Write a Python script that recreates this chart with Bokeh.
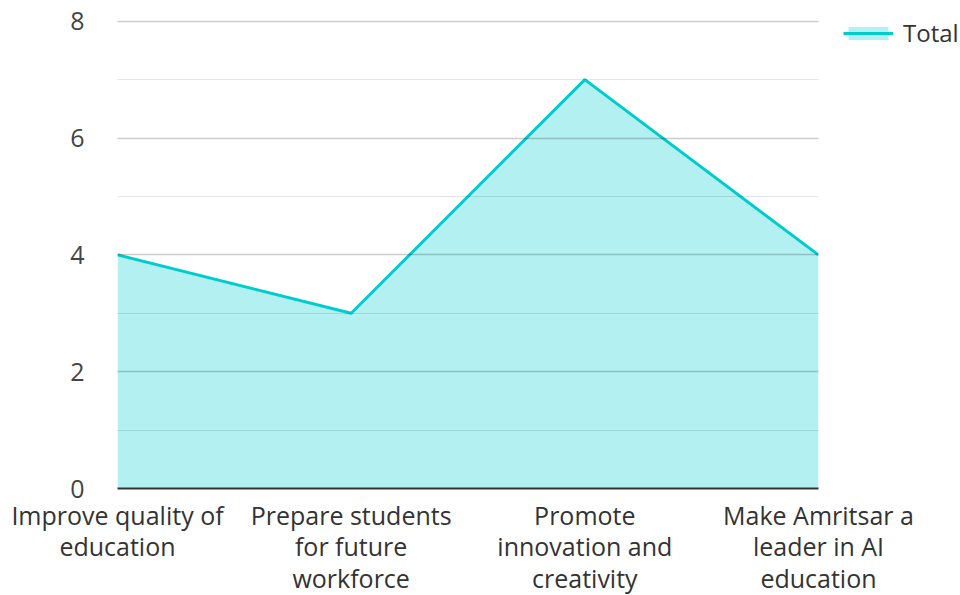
from bokeh.plotting import figure
from bokeh.models import FixedTicker, Legend, LegendItem, ColumnDataSource, Range1d
from bokeh.embed import file_html
from bokeh.resources import INLINE

categories = ["Improve quality of\neducation", "Prepare students\nfor future\nworkforce",
              "Promote\ninnovation and\ncreativity", "Make Amritsar a\nleader in AI\neducation"]
totals = [4, 3, 7, 4]
y_ticks = [0, 2, 4, 6, 8]
y_minor = [1, 3, 5, 7]

xs = list(range(len(categories)))
src = ColumnDataSource(dict(x=xs, y=totals, base=[0] * len(xs)))

FONT = "Open Sans"
FS = "25px"
p = figure(frame_width=701, frame_height=469, output_backend="svg", toolbar_location=None,
           x_range=Range1d(0, len(categories) - 1), y_range=Range1d(0, 8.03),
           min_border_left=117, min_border_right=0, min_border_top=19, min_border_bottom=0)
p.outline_line_color = None
p.background_fill_color = "white"

area = p.varea(x="x", y1="base", y2="y", source=src, fill_color="#00CED1", fill_alpha=0.3)
line = p.line(x="x", y="y", source=src, line_color="#00CCCC", line_width=3)

p.xaxis.ticker = FixedTicker(ticks=xs)
p.xaxis.major_label_overrides = {i: c for i, c in enumerate(categories)}
p.xaxis.major_tick_line_color = None
p.xaxis.minor_tick_line_color = None
p.xaxis.axis_line_color = "#333333"
p.xaxis.axis_line_width = 2
p.xaxis.major_label_text_font = FONT
p.xaxis.major_label_text_font_size = FS
p.xaxis.major_label_text_line_height = 0.94
p.xaxis.major_label_text_color = "#333333"
p.xaxis.major_label_standoff = 3
p.xgrid.grid_line_color = None

p.yaxis.ticker = FixedTicker(ticks=y_ticks, minor_ticks=y_minor)
p.yaxis.axis_line_color = None
p.yaxis.major_tick_line_color = None
p.yaxis.minor_tick_line_color = None
p.yaxis.major_label_text_font = FONT
p.yaxis.major_label_text_font_size = FS
p.yaxis.major_label_text_color = "#444444"
p.yaxis.major_label_standoff = 27
p.ygrid.grid_line_color = "#000000"
p.ygrid.grid_line_alpha = 0.2
p.ygrid.grid_line_width = 1.5
p.ygrid.minor_grid_line_color = "#000000"
p.ygrid.minor_grid_line_alpha = 0.1
p.ygrid.level = "overlay"

legend = Legend(items=[LegendItem(label="Total", renderers=[area, line])],
                location=(25, 439), orientation="vertical",
                margin=0, padding=0, border_line_color=None, background_fill_alpha=0,
                glyph_width=50, glyph_height=16, label_standoff=10,
                label_text_font=FONT, label_text_font_size="24px", label_text_color="#333333")
p.add_layout(legend, "right")

open("out.html", "w").write(file_html(p, INLINE))
